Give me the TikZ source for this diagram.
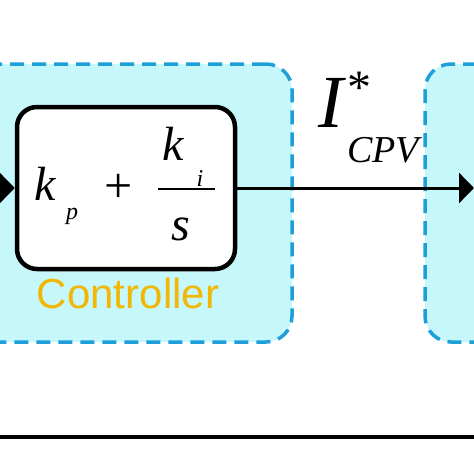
\documentclass[tikz,border=0pt]{standalone}
\usepackage{fontspec}
\setmainfont{Liberation Serif}
\newfontfamily\arialf{Liberation Sans}
\usetikzlibrary{arrows.meta}
\definecolor{cyanfill}{HTML}{C6F7FB}
\definecolor{dashblue}{HTML}{1E9FD8}
\definecolor{ctrlgold}{HTML}{F2B705}
\begin{document}
\begin{tikzpicture}[x=1pt,y=-1pt,
  groupbox/.style={draw=dashblue, fill=cyanfill, line width=3.5pt, dash pattern=on 14pt off 8pt, rounded corners=26pt, inner sep=0pt},
  pibox/.style={draw=black, fill=white, line width=4.5pt, rounded corners=20pt, inner sep=0pt},
  txt/.style={inner sep=0pt, anchor=base},
  bigit/.style={txt, font=\fontsize{48}{48}\selectfont\itshape},
  subit/.style={txt, font=\fontsize{24}{24}\selectfont\itshape},
  sig/.style={line width=3pt, -{Triangle[length=15pt,width=30pt]}}]
\useasboundingbox (0,0) rectangle (474,474);
\clip (0,0) rectangle (474,474);
% dashed groups
\node[groupbox, minimum width=332pt, minimum height=278pt] (ctrl) at (126,203) {};
\node[groupbox, minimum width=100pt, minimum height=278pt] (next) at (475,203) {};
% PI block
\node[pibox, minimum width=218pt, minimum height=162pt] (pi) at (126,188) {};
\node[bigit] (kp) at (45,200) {k};
\node[subit] (p) at (72,219) {p};
\node[inner sep=0pt, font=\fontsize{50}{50}\selectfont] (plus) at (119,188) {+};
\node[bigit] (ki) at (173,160) {k};
\node[subit] (i) at (200,186) {i};
\node[fill=black, inner sep=0pt, minimum width=57pt, minimum height=2.5pt] (bar) at (186.5,189) {};
\node[bigit] (s) at (181,240) {s};
\node[txt, font=\fontsize{42}{42}\selectfont\arialf, text=ctrlgold] (lab) at (128,308) {Controller};
% signal label
\node[txt, font=\fontsize{75}{75}\selectfont\itshape] (I) at (331,127) {I};
\node[inner sep=0pt, font=\fontsize{48}{48}\selectfont] (star) at (359,88) {*};
\node[txt, font=\fontsize{38}{38}\selectfont\itshape] (cpv) at (383,162) {CPV};
% connectors
\coordinate (in) at (-10,188);
\coordinate (out) at (474,188);
\draw[sig] (in) -- (pi.west);
\draw[sig] (pi.east) -- (out);
\coordinate (bl) at (0,437);
\coordinate (br) at (474,437);
\draw[line width=3.5pt] (bl) -- (br);
\end{tikzpicture}
\end{document}
